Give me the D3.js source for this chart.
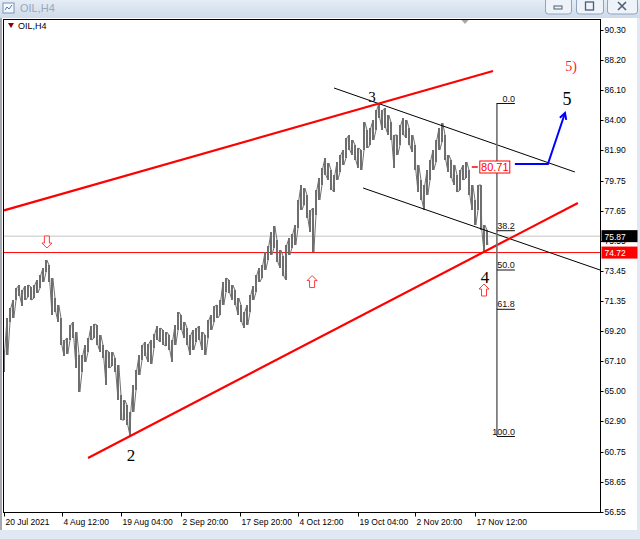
<!DOCTYPE html>
<html><head><meta charset="utf-8">
<script src="https://cdn.jsdelivr.net/npm/d3@7"></script>
<style>body{margin:0;background:#fff;} svg{display:block;}</style>
</head><body><svg id="c" width="640" height="539"></svg>
<script>
// ---------------- data ----------------
const symbol = "OIL,H4";
const barHigh = [67.90,70.14,70.84,71.40,72.24,72.45,72.10,72.38,72.45,72.31,72.45,72.80,73.15,73.64,74.20,73.85,72.94,71.54,71.05,70.14,
68.60,68.74,69.65,69.86,69.16,67.55,67.55,68.25,68.74,69.58,69.72,69.65,68.95,68.25,67.90,67.76,67.76,67.34,66.85,64.75,
64.40,64.05,63.56,65.45,66.50,67.55,68.25,68.46,68.32,68.60,69.02,69.58,69.44,69.30,69.16,68.95,68.60,69.65,70.56,70.35,
69.86,69.44,68.95,69.30,69.44,69.58,69.16,68.95,70.00,70.35,70.98,71.05,71.40,72.66,72.94,72.80,72.45,72.10,71.54,71.05,
70.56,71.05,71.75,72.38,73.15,73.64,73.85,74.76,75.18,76.16,76.58,75.60,74.90,74.48,75.25,75.74,76.02,76.65,78.40,79.45,
79.24,78.75,77.70,77.84,79.10,79.94,80.64,81.34,80.99,80.50,80.15,81.06,81.55,81.90,82.74,82.95,82.60,82.25,82.04,81.90,
83.86,83.30,83.44,84.00,84.70,85.19,84.70,84.84,84.35,83.86,82.95,82.95,83.65,84.14,84.00,83.44,82.95,82.25,80.85,79.80,
79.45,80.50,81.20,81.90,82.60,83.44,83.79,82.95,81.55,81.20,80.85,80.15,80.50,80.85,81.06,80.50,79.45,78.40,79.45,79.45,
76.65,76.30];
const barLow = [66.36,67.55,69.86,70.14,71.40,71.68,70.98,71.40,71.61,71.40,71.54,71.89,72.24,72.66,73.36,72.66,70.35,70.56,69.86,68.25,
67.48,67.62,68.60,68.74,66.64,64.96,66.36,67.06,67.76,68.60,68.74,68.25,67.76,67.34,65.45,66.64,66.78,66.36,64.40,63.00,
63.00,62.65,61.88,63.56,65.10,66.15,67.20,67.48,67.06,66.92,68.04,68.60,68.46,68.25,68.18,67.90,67.06,68.25,69.30,69.30,
68.74,68.25,67.55,67.90,68.46,68.60,67.90,67.55,68.74,69.30,69.86,70.14,70.35,71.05,71.96,71.89,71.40,71.05,70.35,69.86,
69.44,69.65,70.56,71.40,71.96,72.66,72.94,73.50,74.20,74.55,75.04,74.06,73.64,73.08,72.80,74.55,75.04,75.25,76.44,77.70,
78.05,77.14,76.16,74.76,77.35,78.40,79.45,80.15,79.80,79.10,78.96,79.80,80.36,80.85,81.34,81.90,81.55,81.20,80.64,80.50,
81.90,82.04,82.25,82.60,83.30,84.14,83.30,83.44,82.95,82.60,80.64,81.55,82.25,82.95,82.74,82.25,81.76,80.50,78.96,78.40,
77.70,78.75,79.80,80.50,81.06,81.90,82.46,81.20,80.36,79.94,79.45,78.96,79.10,79.80,79.94,78.75,77.70,76.65,77.70,76.30,
74.75,75.25];

const priceTicks = [90.30,88.20,86.10,84.00,81.90,79.75,77.65,75.55,73.45,71.35,69.20,67.10,65.00,62.90,60.75,58.65,56.55];
const timeTickIdx = [0,19.5,39,59,78.5,98,118,137,157];
const timeTickLabels = ["20 Jul 2021","4 Aug 12:00","19 Aug 04:00","2 Sep 20:00","17 Sep 20:00","4 Oct 12:00","19 Oct 04:00","2 Nov 20:00","17 Nov 12:00"];

const bidPrice = 75.87;
const levelPrice = 74.72;
const upperChannel = [[0,77.67],[163,87.43]];
const lowerChannel = [[28,60.34],[191.3,78.19]];
const upperDesc = [[110,86.24],[190.3,80.36]];
const lowerDesc = [[119.7,79.24],[198.7,73.50]];
const fibHigh = 85.19, fibLow = 61.88;
const fibLevels = [0,38.2,50,61.8,100];
const fibLabels = ["0.0","38.2","50.0","61.8","100.0"];
const fibIdx = [164.3,170.3];
const bluePath = [[170.3,80.92],[181.3,80.92],[187,84.49]];
const priceLabel = {i:158.6, p:80.71, t:"80.71"};
const waveLabels = [
  {t:"3", i:122.7, p:85.61, c:"#000", s:15},
  {t:"2", i:42.3, p:60.55, c:"#000", s:17},
  {t:"4", i:160.3, p:73.01, c:"#000", s:17},
  {t:"5", i:187.7, p:85.47, c:"#000", s:18},
  {t:"5)", i:189, p:87.78, c:"#ff1a1a", s:14}
];
const arrowMarks = [{i:14.3,p:75.46,dir:-1},{i:102.7,p:72.69,dir:1},{i:160,p:72.10,dir:1}];

// ---------------- layout ----------------
const svg = d3.select("#c");
const L = 3.5, R = 600.5, T = 19.5, B = 512.5;
const x = d3.scaleLinear().domain([0,199]).range([4,601]);
const y = d3.scaleLinear().domain([56.56,91.07]).range([512,19]);

// window chrome
svg.append("rect").attr("width",640).attr("height",539).attr("fill","#dfe8f3");
const tg = svg.append("defs").append("linearGradient").attr("id","tb").attr("x1",0).attr("y1",0).attr("x2",0).attr("y2",1);
tg.append("stop").attr("offset",0).attr("stop-color","#e4ecf6");
tg.append("stop").attr("offset",1).attr("stop-color","#cfdbea");
svg.append("rect").attr("width",640).attr("height",18).attr("fill","url(#tb)");
svg.append("rect").attr("x",3).attr("y",3).attr("width",11).attr("height",10).attr("fill","#f4f7fb").attr("stroke","#7d93b0");
svg.append("path").attr("d","M5,10 L7,7 L9,9 L12,5").attr("stroke","#4a78b8").attr("fill","none");
svg.append("text").attr("x",20).attr("y",12).text(symbol).attr("font-family","Liberation Sans, Arial").attr("font-size",11).attr("fill","#9aa8bb");
[[545,26],[576,27],[607,30]].forEach((b,k)=>{
  svg.append("rect").attr("x",b[0]+0.5).attr("y",-2).attr("width",b[1]).attr("height",16).attr("rx",3)
    .attr("fill","#eef3f9").attr("stroke","#8fa3bd");
  const cx=b[0]+b[1]/2;
  if(k===0) svg.append("rect").attr("x",cx-4).attr("y",6).attr("width",8).attr("height",3).attr("fill","none").attr("stroke","#4d5d75");
  if(k===1) svg.append("rect").attr("x",cx-4).attr("y",2).attr("width",8).attr("height",8).attr("fill","none").attr("stroke","#4d5d75").attr("stroke-width",1.3);
  if(k===2) svg.append("path").attr("d",`M${cx-4},2 L${cx+4},10 M${cx+4},2 L${cx-4},10`).attr("stroke","#4d5d75").attr("stroke-width",1.6);
});
// client area
svg.append("rect").attr("x",2).attr("y",18).attr("width",635).attr("height",512).attr("fill","#fff");
svg.append("line").attr("x1",1).attr("x2",1).attr("y1",18).attr("y2",530).attr("stroke","#6a6a6a");

const clip = svg.append("defs").append("clipPath").attr("id","pc");
clip.append("rect").attr("x",L).attr("y",T).attr("width",R-L).attr("height",B-T);
const plot = svg.append("g").attr("clip-path","url(#pc)");

// horizontal lines
plot.append("line").attr("x1",L).attr("x2",R).attr("y1",y(bidPrice)).attr("y2",y(bidPrice)).attr("stroke","#c4c4c4").attr("stroke-width",1);
plot.append("line").attr("x1",L).attr("x2",R).attr("y1",y(levelPrice)).attr("y2",y(levelPrice)).attr("stroke","#ff0000").attr("stroke-width",1);

// price bars
const idx = d3.range(barHigh.length);
plot.selectAll("line.bar").data(idx).join("line").attr("class","bar")
  .attr("x1",i=>x(i)).attr("x2",i=>x(i)).attr("y1",i=>y(barHigh[i])).attr("y2",i=>y(barLow[i]))
  .attr("stroke","#5e5e5e").attr("stroke-width",1.8);
const zz = [];
idx.forEach(i=>{ if(i%2===0){zz.push([x(i),barLow[i]]);zz.push([x(i)+0.8,barHigh[i]]);} else {zz.push([x(i),barHigh[i]]);zz.push([x(i)+0.8,barLow[i]]);} });
plot.append("path").attr("d",d3.line().x(d=>d[0]).y(d=>y(d[1]))(zz)).attr("fill","none").attr("stroke","#707070").attr("stroke-width",1);

// trend lines
const seg = (pts,col,w)=>plot.append("line")
  .attr("x1",x(pts[0][0])).attr("y1",y(pts[0][1])).attr("x2",x(pts[1][0])).attr("y2",y(pts[1][1]))
  .attr("stroke",col).attr("stroke-width",w);
seg(upperDesc,"#000",1);
seg(lowerDesc,"#000",1);
seg(upperChannel,"#ff0000",2.2);
seg(lowerChannel,"#ff0000",2.2);

// fibonacci
const fibP = l => fibHigh - (fibHigh-fibLow)*l/100;
plot.append("line").attr("x1",x(fibIdx[0])).attr("x2",x(fibIdx[0])).attr("y1",y(fibHigh)).attr("y2",y(fibLow))
  .attr("stroke","#707070").attr("stroke-width",1.6);
fibLevels.forEach((l,k)=>{
  plot.append("line").attr("x1",x(fibIdx[0])).attr("x2",x(fibIdx[1])).attr("y1",y(fibP(l))+0.5).attr("y2",y(fibP(l))+0.5)
    .attr("stroke","#111").attr("stroke-width",1);
  plot.append("text").attr("x",x(fibIdx[1])).attr("y",y(fibP(l))-1.5).attr("text-anchor","end")
    .attr("font-family","Liberation Sans, Arial").attr("font-size",9).attr("fill","#111").text(fibLabels[k]);
});

// blue projection
plot.append("path").attr("d",d3.line().x(d=>x(d[0])).y(d=>y(d[1]))(bluePath))
  .attr("fill","none").attr("stroke","#0000ff").attr("stroke-width",2);
{
  const a=bluePath[1], b=bluePath[2];
  const x1=x(a[0]),y1=y(a[1]),x2=x(b[0]),y2=y(b[1]);
  const ang=Math.atan2(y2-y1,x2-x1), h=7;
  const p1=[x2-h*Math.cos(ang-0.5),y2-h*Math.sin(ang-0.5)], p2=[x2-h*Math.cos(ang+0.5),y2-h*Math.sin(ang+0.5)];
  plot.append("path").attr("d",`M${p1} L${x2},${y2} L${p2}`).attr("fill","none").attr("stroke","#0000ff").attr("stroke-width",2);
}

// price label 80.71
{
  const px=x(priceLabel.i), py=y(priceLabel.p);
  plot.append("line").attr("x1",px-8).attr("x2",px-2).attr("y1",py).attr("y2",py).attr("stroke","#ff0000").attr("stroke-width",1.3);
  plot.append("rect").attr("x",px).attr("y",py-6).attr("width",30).attr("height",12).attr("fill","#fff").attr("stroke","#ff0000").attr("stroke-width",1);
  plot.append("text").attr("x",px+15).attr("y",py+4).attr("text-anchor","middle").attr("font-family","Liberation Sans, Arial")
    .attr("font-size",11).attr("fill","#ff0000").text(priceLabel.t);
}

// arrows
arrowMarks.forEach(a=>{
  const cx=x(a.i), cy=y(a.p), d=a.dir;
  const pts=[[0,-6],[5,-1],[2.5,-1],[2.5,6],[-2.5,6],[-2.5,-1],[-5,-1]].map(q=>[cx+q[0],cy+q[1]*d]);
  plot.append("path").attr("d","M"+pts.join("L")+"Z").attr("fill","#fff").attr("stroke","#ff3b3b").attr("stroke-width",1);
});

// wave labels
waveLabels.forEach(w=>{
  plot.append("text").attr("x",x(w.i)).attr("y",y(w.p)).attr("text-anchor","middle").attr("dominant-baseline","central")
    .attr("font-family","Liberation Serif, Times New Roman, serif").attr("font-size",w.s).attr("fill",w.c).text(w.t);
});

// title
svg.append("path").attr("d","M8,23 L14,23 L11,28 Z").attr("fill","#8b0000");
svg.append("text").attr("x",18).attr("y",29).text(symbol).attr("font-family","Liberation Sans, Arial").attr("font-size",9).attr("fill","#000");
svg.append("path").attr("d","M461,19.5 L469,19.5 L465,24 Z").attr("fill","#a8a8a8");

// frame
svg.append("rect").attr("x",L).attr("y",T).attr("width",R-L).attr("height",B-T).attr("fill","none").attr("stroke","#000").attr("stroke-width",1);

// right axis
const ax = svg.append("g");
priceTicks.forEach(p=>{
  ax.append("line").attr("x1",R).attr("x2",R+3).attr("y1",Math.round(y(p))+0.5).attr("y2",Math.round(y(p))+0.5).attr("stroke","#000");
  ax.append("text").attr("x",R+4).attr("y",y(p)+3).attr("font-family","Liberation Sans, Arial").attr("font-size",8.5).attr("fill","#000").text(p.toFixed(2));
});
[[bidPrice,"#000"],[levelPrice,"#ff0000"]].forEach(b=>{
  ax.append("rect").attr("x",R+1).attr("y",y(b[0])-6).attr("width",36).attr("height",12).attr("fill",b[1]);
  ax.append("text").attr("x",R+4).attr("y",y(b[0])+3.5).attr("font-family","Liberation Sans, Arial").attr("font-size",8.5).attr("fill","#fff").text(b[0].toFixed(2));
});

// bottom axis
timeTickIdx.forEach((t,k)=>{
  const tx=Math.round(x(t))+0.5;
  ax.append("line").attr("x1",tx).attr("x2",tx).attr("y1",B).attr("y2",B+4).attr("stroke","#000");
  ax.append("text").attr("x",tx+1).attr("y",B+12).attr("font-family","Liberation Sans, Arial").attr("font-size",8.5).attr("fill","#000").text(timeTickLabels[k]);
});
</script></body></html>
